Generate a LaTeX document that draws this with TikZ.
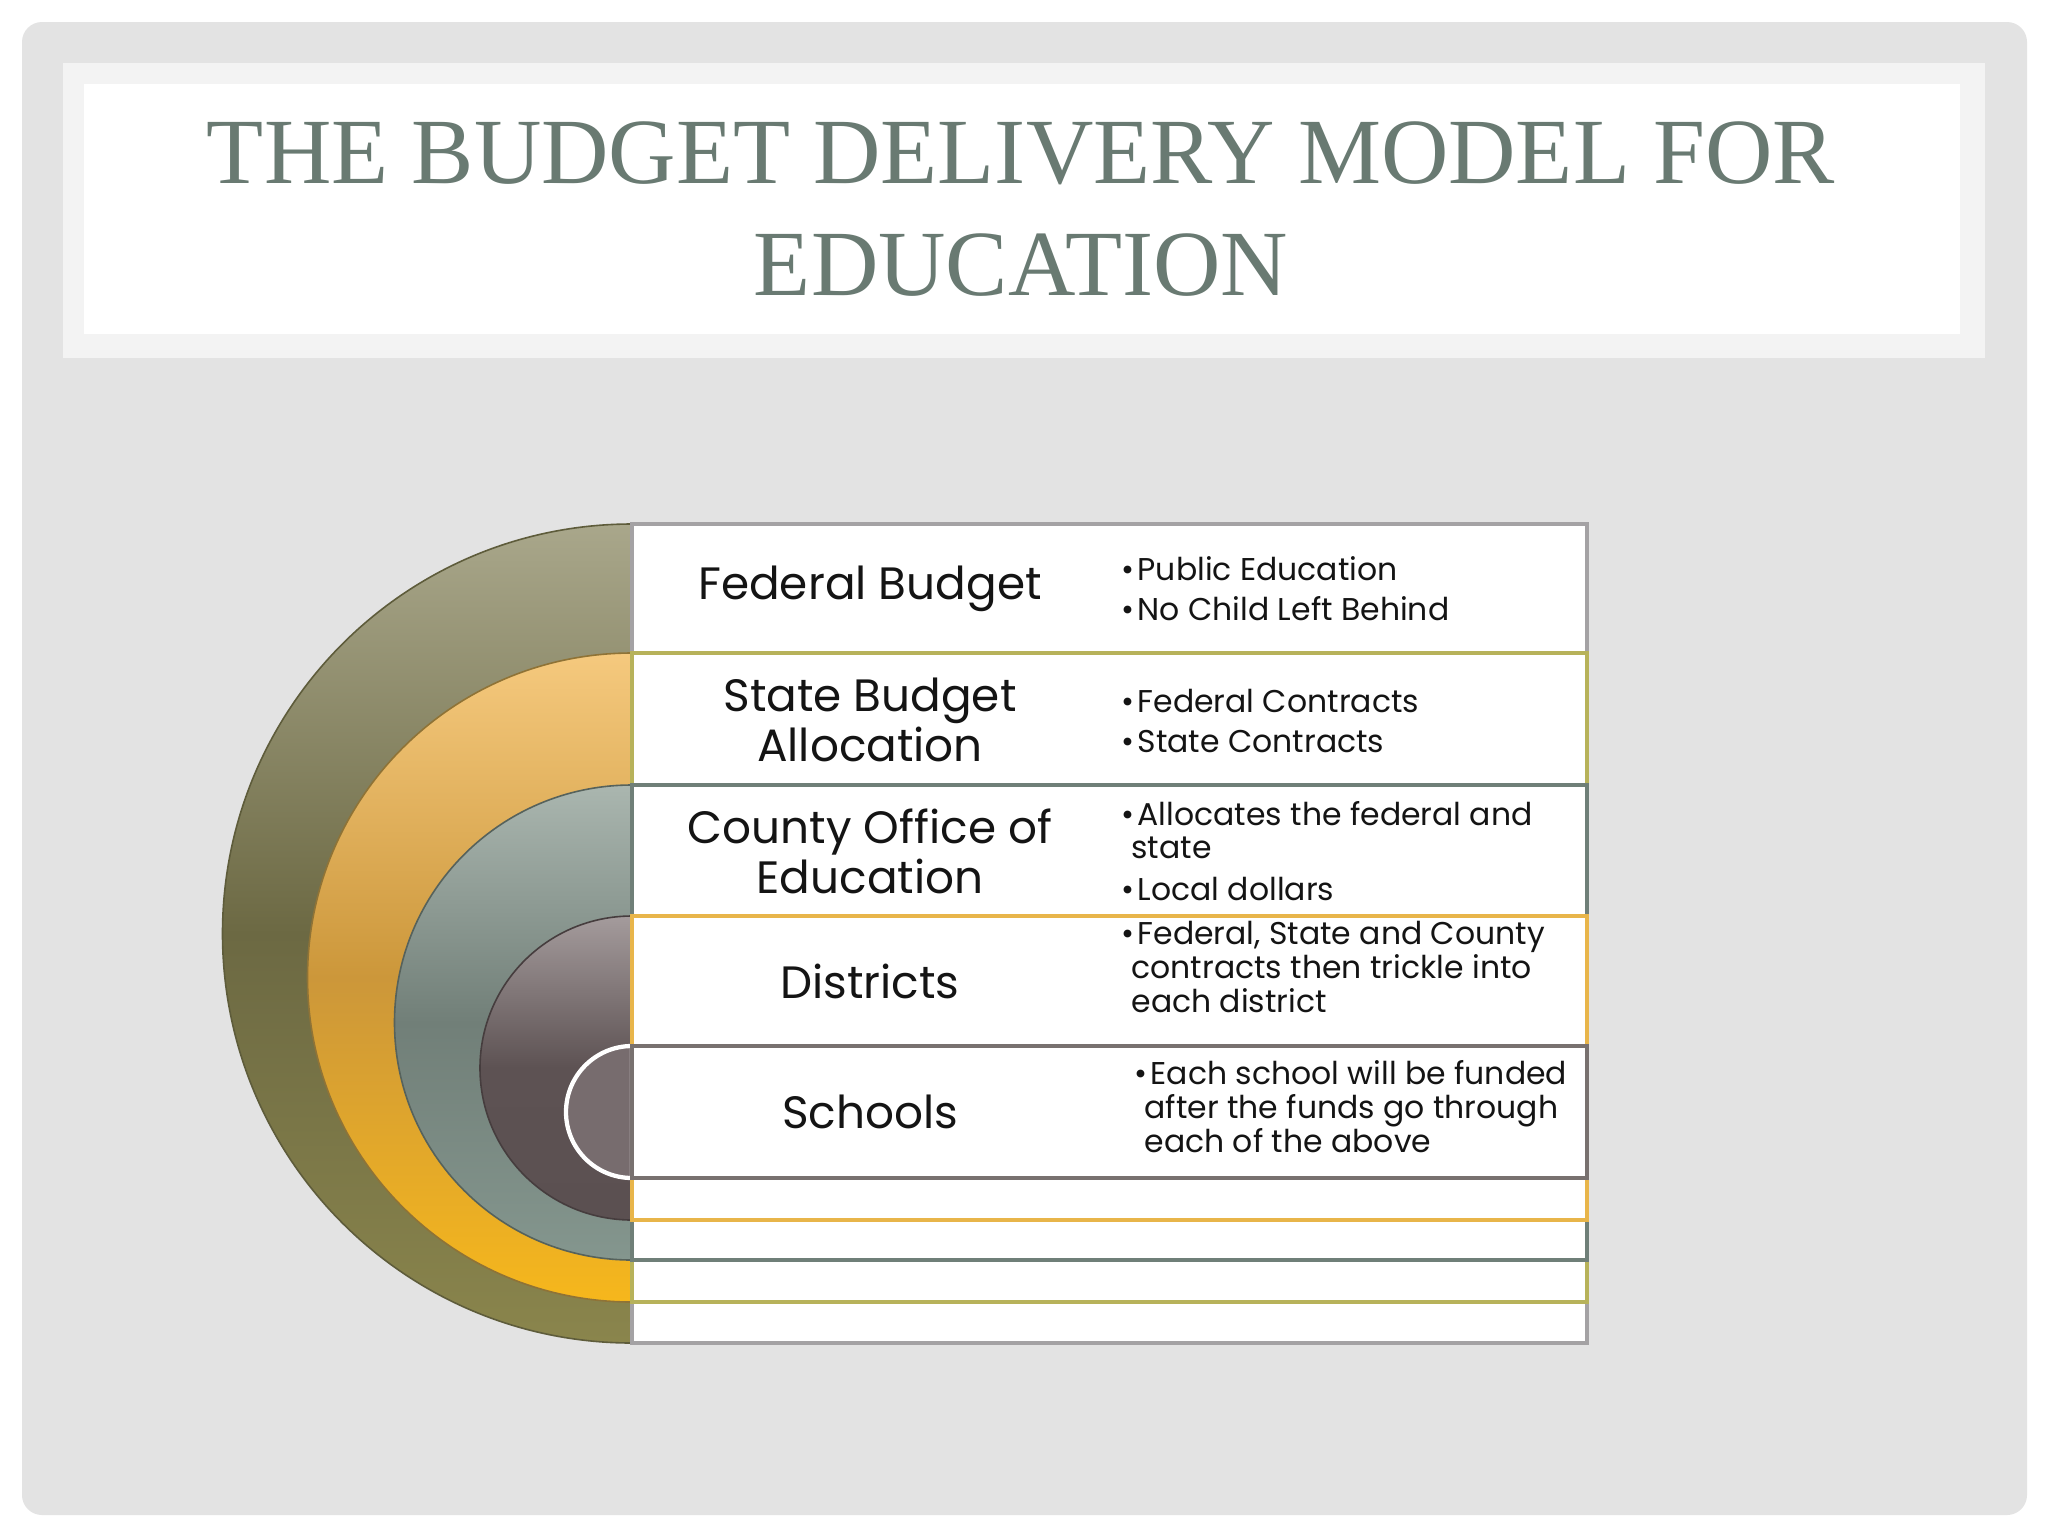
\documentclass[tikz,border=0pt]{standalone}
\usepackage{fontspec}
\setmainfont{Liberation Serif}
\newfontfamily\bodyfont{Poppins}
\newfontfamily\titlefont{Liberation Serif}
\definecolor{slidebg}{HTML}{E3E3E3}
\definecolor{bandbg}{HTML}{F3F3F3}
\definecolor{titlecol}{HTML}{697A72}
\definecolor{fedline}{HTML}{A4A2A4}
\definecolor{stateline}{HTML}{B7B25A}
\definecolor{countyline}{HTML}{6F7F78}
\definecolor{distline}{HTML}{E8B54A}
\definecolor{schoolline}{HTML}{78716F}
\definecolor{fedtop}{HTML}{A9A78B}
\definecolor{fedmid}{HTML}{6C6943}
\definecolor{fedbot}{HTML}{8A854C}
\definecolor{fededge}{HTML}{5E5C3B}
\definecolor{statetop}{HTML}{F5C97E}
\definecolor{statemid}{HTML}{CC973A}
\definecolor{statebot}{HTML}{F6B71C}
\definecolor{stateedge}{HTML}{8F7336}
\definecolor{countytop}{HTML}{AAB6AF}
\definecolor{countymid}{HTML}{717F78}
\definecolor{countybot}{HTML}{84968E}
\definecolor{countyedge}{HTML}{56625C}
\definecolor{disttop}{HTML}{A49B9C}
\definecolor{distmid}{HTML}{5D5253}
\definecolor{distbot}{HTML}{5B5051}
\definecolor{distedge}{HTML}{463D3E}
\definecolor{schoolfill}{HTML}{776C6E}
\definecolor{textcol}{HTML}{141414}
\begin{document}
\begin{tikzpicture}[x=0.375pt,y=-0.375pt,
  tier/.style={fill=white,line width=1.8pt},
  label/.style={font=\bodyfont\fontsize{17}{18.75}\selectfont,text=textcol,align=center,inner sep=0pt},
  bul/.style={font=\bodyfont\fontsize{11.8}{12.7}\selectfont,text=textcol,anchor=base west,inner sep=0pt},
  ttl/.style={font=\titlefont\fontsize{35}{42}\selectfont,text=titlecol,anchor=base,inner sep=0pt}]
\newcommand{\bl}{\textbullet\kern1.2pt}
\useasboundingbox (0,0) rectangle (2048,1536);
\fill[white] (0,0) rectangle (2048,1536);
\fill[slidebg,rounded corners=7.5pt] (22,22) rectangle (2027,1515);
\fill[bandbg] (63,63) rectangle (1985,358);
\fill[white] (84,84) rectangle (1960,334);
\node[ttl] (t1) at (1021,183) {THE BUDGET DELIVERY MODEL FOR};
\node[ttl] (t2) at (1021,295) {EDUCATION};
% semicircles
\shade[top color=fedtop,bottom color=fedbot,middle color=fedmid,draw=fededge,line width=0.6pt]
  (632,524) arc[start angle=270,end angle=90,radius=409.5] -- cycle;
\shade[top color=statetop,bottom color=statebot,middle color=statemid,draw=stateedge,line width=0.6pt]
  (632,653) arc[start angle=270,end angle=90,radius=324.5] -- cycle;
\shade[top color=countytop,bottom color=countybot,middle color=countymid,draw=countyedge,line width=0.6pt]
  (632,785) arc[start angle=270,end angle=90,radius=237.5] -- cycle;
\shade[top color=disttop,bottom color=distbot,middle color=distmid,draw=distedge,line width=0.6pt]
  (632,916) arc[start angle=270,end angle=90,radius=152] -- cycle;
\filldraw[fill=schoolfill,draw=white,line width=1.6pt]
  (632,1046) arc[start angle=270,end angle=90,radius=66] -- cycle;
% nested boxes
\draw[tier,draw=fedline] (632,524) rectangle (1587,1343);
\draw[tier,draw=stateline] (632,653) rectangle (1587,1302);
\draw[tier,draw=countyline] (632,785) rectangle (1587,1260);
\draw[tier,draw=distline] (632,916) rectangle (1587,1220);
\draw[tier,draw=schoolline] (632,1046) rectangle (1587,1178);
% left labels
\node[label] (l1) at (870,589) {Federal Budget};
\node[label] (l2) at (870,720) {State Budget\\Allocation};
\node[label] (l3) at (870,851) {County Office of\\Education};
\node[label] (l4) at (870,981) {Districts};
\node[label] (l5) at (870,1112) {Schools};
% bullets
\node[bul] (b1a) at (1121,580) {\bl Public Education};
\node[bul] (b1b) at (1121,620) {\bl No Child Left Behind};
\node[bul] (b2a) at (1121,712) {\bl Federal Contracts};
\node[bul] (b2b) at (1121,752) {\bl State Contracts};
\node[bul] (b3a) at (1121,825) {\bl Allocates the federal and};
\node[bul] (b3b) at (1131,858) {state};
\node[bul] (b3c) at (1121,900) {\bl Local dollars};
\node[bul] (b4a) at (1121,944) {\bl Federal, State and County};
\node[bul] (b4b) at (1131,978) {contracts then trickle into};
\node[bul] (b4c) at (1131,1012) {each district};
\node[bul] (b5a) at (1134,1084) {\bl Each school will be funded};
\node[bul] (b5b) at (1144,1118) {after the funds go through};
\node[bul] (b5c) at (1144,1152) {each of the above};
\end{tikzpicture}
\end{document}
